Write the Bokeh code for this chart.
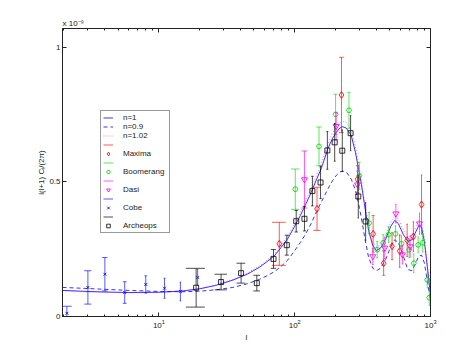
import numpy as np
from bokeh.plotting import figure
from bokeh.models import (FixedTicker, LogAxis, LinearAxis, Legend, LegendItem)
from bokeh.core.properties import value
from bokeh.embed import file_html
from bokeh.resources import INLINE

# ---------------- data (C_l values in units of 1e-9) ----------------
l_theory = [1.95, 3, 4, 6, 10, 15, 20, 26, 35, 45, 55, 63, 71, 79, 89, 100, 110, 120, 132, 145,
            157, 176, 190, 203, 215, 226, 240, 261, 280, 295, 310, 330, 350, 375, 400, 430, 470,
            510, 545, 580, 630, 680, 730, 780, 820, 860, 900, 950, 1000]
cl_n1 = [0.097, 0.093, 0.091, 0.089, 0.090, 0.095, 0.103, 0.115, 0.135, 0.158, 0.183, 0.205, 0.226,
         0.255, 0.29, 0.335, 0.375, 0.415, 0.46, 0.51, 0.55, 0.625, 0.662, 0.685, 0.70, 0.705, 0.70,
         0.672, 0.61, 0.55, 0.49, 0.40, 0.32, 0.265, 0.245, 0.255, 0.29, 0.335, 0.357, 0.345, 0.305,
         0.28, 0.285, 0.315, 0.338, 0.33, 0.28, 0.18, 0.08]
cl_n09 = [0.108, 0.104, 0.101, 0.097, 0.093, 0.092, 0.094, 0.099, 0.108, 0.122, 0.138, 0.152, 0.167,
          0.185, 0.21, 0.245, 0.275, 0.305, 0.345, 0.39, 0.425, 0.475, 0.505, 0.525, 0.537, 0.54,
          0.537, 0.51, 0.47, 0.42, 0.365, 0.285, 0.22, 0.18, 0.17, 0.18, 0.215, 0.26, 0.285, 0.275,
          0.225, 0.175, 0.17, 0.2, 0.225, 0.228, 0.2, 0.13, 0.06]
cl_n102 = [0.095, 0.091, 0.090, 0.088, 0.089, 0.095, 0.104, 0.117, 0.138, 0.162, 0.188, 0.211, 0.233,
           0.263, 0.3, 0.345, 0.387, 0.428, 0.475, 0.526, 0.567, 0.643, 0.682, 0.706, 0.72, 0.726,
           0.72, 0.692, 0.63, 0.57, 0.505, 0.415, 0.335, 0.278, 0.258, 0.268, 0.305, 0.352, 0.376,
           0.362, 0.322, 0.296, 0.302, 0.333, 0.357, 0.349, 0.296, 0.19, 0.085]

maxima_l = [77, 146, 221, 290, 378, 452, 521, 593, 673, 748, 859]
maxima_cl = [0.27, 0.40, 0.823, 0.51, 0.307, 0.198, 0.261, 0.243, 0.283, 0.297, 0.416]
maxima_err = [0.08, 0.08, 0.14, 0.05, 0.068, 0.045, 0.05, 0.06, 0.06, 0.055, 0.11]

boomerang_l = [101, 151, 200, 251, 299, 353, 405, 448, 492, 552, 611, 696, 753, 811, 877, 946, 979]
boomerang_cl = [0.473, 0.632, 0.751, 0.766, 0.523, 0.347, 0.248, 0.274, 0.304, 0.307, 0.27, 0.248,
                0.198, 0.266, 0.274, 0.136, 0.07]
boomerang_err = [0.075, 0.072, 0.075, 0.067, 0.05, 0.04, 0.03, 0.03, 0.03, 0.03, 0.03, 0.03, 0.035,
                 0.03, 0.035, 0.03, 0.03]

dasi_l = [118, 202, 290, 376, 461, 556, 621, 708, 830]
dasi_cl = [0.509, 0.707, 0.49, 0.223, 0.255, 0.382, 0.23, 0.26, 0.345]
dasi_err = [0.106, 0.05, 0.05, 0.03, 0.04, 0.035, 0.035, 0.04, 0.04]

cobe_l = [2.1, 3, 4, 5.6, 8, 11, 14.4, 19.3]
cobe_cl = [0.012, 0.108, 0.157, 0.089, 0.119, 0.105, 0.093, 0.145]
cobe_err = [0.026, 0.062, 0.062, 0.04, 0.032, 0.037, 0.035, 0.03]

archeops_l = [18.8, 28.7, 40.3, 52.6, 69.8, 87.5, 102.6, 118, 135, 155, 174, 197, 224, 258, 294, 333]
archeops_cl = [0.107, 0.128, 0.161, 0.124, 0.214, 0.265, 0.354, 0.363, 0.466, 0.498, 0.617, 0.647,
               0.616, 0.681, 0.446, 0.353]
archeops_err = [0.072, 0.029, 0.037, 0.029, 0.035, 0.037, 0.04, 0.045, 0.055, 0.06, 0.07, 0.07,
                0.077, 0.065, 0.08, 0.07]

y_ticks = [0, 0.5, 1]
y_tick_labels = ["0", "0.5", "1"]
x_ticks = [10, 100, 1000]

# ---------------- figure ----------------
FONT = "Liberation Sans"
p = figure(width=466, height=347, x_axis_type="log", x_range=(1.95, 1000), y_range=(0, 1.07),
           output_backend="svg", toolbar_location=None,
           min_border_left=62, min_border_right=36, min_border_top=28, min_border_bottom=31)
p.grid.visible = False
p.outline_line_color = "#222222"
p.background_fill_color = "white"
p.border_fill_color = "white"

p.title.text = "x 10\u207b\u2079"
p.title.align = "left"
p.title.text_font = FONT
p.title.text_font_size = "8px"
p.title.text_font_style = "normal"
p.title.text_color = "#222222"
p.title.standoff = 2

minor = [m * d for d in (1, 10, 100) for m in range(2, 10)]
xt = FixedTicker(ticks=x_ticks, minor_ticks=minor)
yt = FixedTicker(ticks=y_ticks, minor_ticks=[])

def style_axis(ax, labels=True):
    ax.axis_line_color = "#222222"
    ax.major_tick_in = 4
    ax.major_tick_out = 0
    ax.minor_tick_in = 2
    ax.minor_tick_out = 0
    ax.major_tick_line_color = "#222222"
    ax.minor_tick_line_color = "#222222"
    ax.major_label_text_font = FONT
    ax.major_label_text_font_size = "8px"
    ax.major_label_text_color = "#222222"
    ax.axis_label_text_font = FONT
    ax.axis_label_text_font_size = "8px"
    ax.axis_label_text_font_style = "normal"
    ax.axis_label_text_color = "#222222"
    if not labels:
        ax.major_label_text_font_size = "1px"
        ax.major_label_text_alpha = 0
        ax.major_label_standoff = 0

xa = p.xaxis[0]
xa.ticker = xt
style_axis(xa)
xa.major_label_standoff = 3
xa.axis_label = "l"
xa.axis_label_standoff = 2

ya = p.yaxis[0]
ya.ticker = yt
style_axis(ya)
ya.major_label_overrides = {t: s for t, s in zip(y_ticks, y_tick_labels)}
ya.major_label_standoff = 2
ya.axis_label = "l(l+1) C\u2097/(2\u03c0)"
ya.axis_label_standoff = 0

top_ax = LogAxis(ticker=FixedTicker(ticks=x_ticks, minor_ticks=minor))
style_axis(top_ax, labels=False)
p.add_layout(top_ax, "above")
right_ax = LinearAxis(ticker=FixedTicker(ticks=y_ticks, minor_ticks=[]))
style_axis(right_ax, labels=False)
p.add_layout(right_ax, "right")

# theory curves
r_n1 = p.line(l_theory, cl_n1, line_color="blue", line_width=1, line_alpha=0.8)
r_n09 = p.line(l_theory, cl_n09, line_color="blue", line_width=1, line_dash="4 3", line_alpha=0.8)
r_n102 = p.line(l_theory, cl_n102, line_color="#ff00ff", line_width=1, line_dash="1 2", line_alpha=0.6)

def errbars(l, v, e, tee, color, alpha=0.65):
    l = np.asarray(l, float); v = np.asarray(v, float); e = np.asarray(e, float)
    r = p.segment(x0=l, y0=v - e, x1=l, y1=v + e, line_color=color, line_width=1, line_alpha=alpha)
    p.segment(x0=l - tee, y0=v + e, x1=l + tee, y1=v + e, line_color=color, line_width=1, line_alpha=alpha)
    p.segment(x0=l - tee, y0=v - e, x1=l + tee, y1=v - e, line_color=color, line_width=1, line_alpha=alpha)
    return r

e_max = errbars(maxima_l, maxima_cl, maxima_err, 9, "red")
s_max = p.scatter(maxima_l, maxima_cl, marker="diamond", size=7, fill_color=None, line_color="red",
                  line_alpha=0.85)
e_boo = errbars(boomerang_l, boomerang_cl, boomerang_err, 7, "#00dd00")
s_boo = p.scatter(boomerang_l, boomerang_cl, marker="hex", size=5, fill_color=None, line_color="#00dd00",
                  line_alpha=0.85)
e_das = errbars(dasi_l, dasi_cl, dasi_err, 6, "#ff00ff")
s_das = p.scatter(dasi_l, dasi_cl, marker="inverted_triangle", size=6, fill_color=None,
                  line_color="#ff00ff", line_alpha=0.85)
e_cob = errbars(cobe_l, cobe_cl, cobe_err, 0.18, "blue")
s_cob = p.scatter(cobe_l, cobe_cl, marker="x", size=4, line_color="blue", line_alpha=0.85)
e_arc = errbars(archeops_l, archeops_cl, archeops_err, 3.0, "black", alpha=0.7)
s_arc = p.scatter(archeops_l, archeops_cl, marker="square", size=5, fill_color=None, line_color="black",
                  line_alpha=0.8)

items = [
    LegendItem(label=value("n=1"), renderers=[r_n1]),
    LegendItem(label=value("n=0.9"), renderers=[r_n09]),
    LegendItem(label=value("n=1.02"), renderers=[r_n102]),
    LegendItem(label=value("\u00a0"), renderers=[e_max]),
    LegendItem(label=value("Maxima"), renderers=[s_max]),
    LegendItem(label=value("\u00a0"), renderers=[e_boo]),
    LegendItem(label=value("Boomerang"), renderers=[s_boo]),
    LegendItem(label=value("\u00a0"), renderers=[e_das]),
    LegendItem(label=value("Dasi"), renderers=[s_das]),
    LegendItem(label=value("\u00a0"), renderers=[e_cob]),
    LegendItem(label=value("Cobe"), renderers=[s_cob]),
    LegendItem(label=value("\u00a0"), renderers=[e_arc]),
    LegendItem(label=value("Archeops"), renderers=[s_arc]),
]
leg = Legend(items=items, location=(38, 83), orientation="vertical",
             label_text_font=FONT, label_text_font_size="8px", label_text_color="#222222",
             label_height=9, glyph_height=9, glyph_width=10, label_standoff=10, label_width=44,
             spacing=0, padding=2, margin=0,
             border_line_color="#333333", border_line_width=1,
             background_fill_color="white", background_fill_alpha=1)
p.add_layout(leg, "center")

open("out.html", "w").write(file_html(p, INLINE))
